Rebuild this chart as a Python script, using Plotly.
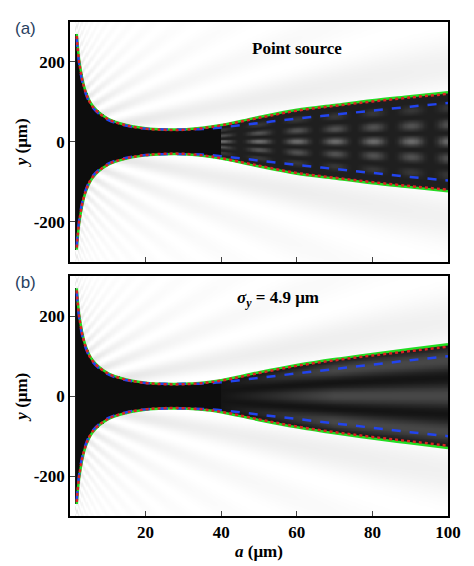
import numpy as np
import plotly.graph_objects as go
from plotly.subplots import make_subplots

# envelope (upper half; lower is mirrored)
a_pts = [1.8, 2.5, 4, 6, 10, 15, 20, 25, 30, 35, 40, 50, 60, 70, 80, 90, 100]
green_a = [270, 200, 130, 90, 58, 42, 34, 31, 31, 35, 42, 62, 80, 92, 104, 114, 124]
red_a = [265, 195, 128, 88, 57, 41, 33, 30, 30, 34, 41, 60, 78, 90, 101, 111, 120]
blue_a = [260, 190, 125, 86, 55, 40, 33, 31, 31, 32, 36, 47, 58, 68, 78, 88, 97]
green_b = [270, 200, 130, 90, 58, 42, 34, 31, 31, 34, 40, 60, 78, 93, 106, 118, 130]
red_b = [265, 195, 128, 88, 57, 41, 33, 30, 30, 33, 39, 58, 76, 90, 102, 113, 124]
blue_b = [260, 190, 125, 86, 55, 40, 33, 31, 31, 32, 35, 46, 57, 68, 79, 90, 100]
x_ticks = [20, 40, 60, 80, 100]
y_ticks = [-200, 0, 200]

a = np.linspace(1.5, 100, 300)
y = np.linspace(-300, 300, 301)
A, Y = np.meshgrid(a, y)


def field(env, checker):
    e = np.interp(A, a_pts, env)
    d = np.abs(Y) - e
    out = 1 - 0.1 * np.exp(-np.clip(d, 0, None) / 120) * np.cos(np.abs(Y) / (6 + A * 0.6)) ** 2
    ins = np.full_like(A, 0.05)
    far = A > 40
    if checker:
        pat = 0.3 * (np.cos(Y / e * 9) * np.cos((A - 40) / 3.2)) ** 2
        pat = 0.12 + pat * (1 - np.abs(Y) / e)
    else:
        pat = 0.08 + 0.2 * np.cos(Y / e * 4.5) ** 2 * np.clip((A - 40) / 30, 0, 1)
    ins = np.where(far, pat, ins)
    return np.where(d > 0, out, ins)


fig = make_subplots(rows=2, cols=1, shared_xaxes=True, vertical_spacing=0.03)
gray = [[0, "black"], [1, "white"]]
for r, (g, rd, b, chk) in enumerate([(green_a, red_a, blue_a, True), (green_b, red_b, blue_b, False)], 1):
    fig.add_trace(go.Heatmap(x=a, y=y, z=field(g, chk), colorscale=gray, zmin=0, zmax=1,
                             showscale=False), row=r, col=1)
    for sgn in (1, -1):
        fig.add_trace(go.Scatter(x=a_pts, y=[sgn * v for v in g], mode="lines", line_shape="spline",
                                 line=dict(color="#22dd22", width=2.5)), row=r, col=1)
        fig.add_trace(go.Scatter(x=a_pts, y=[sgn * v for v in b], mode="lines", line_shape="spline",
                                 line=dict(color="#2244ee", width=2.5, dash="dash")), row=r, col=1)
        fig.add_trace(go.Scatter(x=a_pts, y=[sgn * v for v in rd], mode="lines", line_shape="spline",
                                 line=dict(color="#dd2222", width=2.5, dash="dot")), row=r, col=1)

font = dict(family="Liberation Serif", size=17, color="black")
ax = dict(showline=True, mirror=True, linecolor="black", linewidth=1.5, ticks="inside",
          showgrid=False, zeroline=False, tickfont=font)
for r in (1, 2):
    fig.update_xaxes(range=[0, 100], tickvals=x_ticks,
                     ticktext=["<b>%d</b>" % v for v in x_ticks], row=r, col=1, **ax)
    fig.update_yaxes(range=[-300, 300], tickvals=y_ticks,
                     ticktext=["<b>%d</b>" % v for v in y_ticks], row=r, col=1,
                     title=dict(text="<b><i>y</i> (μm)</b>", font=font, standoff=2), **ax)
fig.update_xaxes(title=dict(text="<b><i>a</i> (μm)</b>", font=font, standoff=4), row=2, col=1)

fig.add_annotation(text="(a)", x=-0.15, y=1.01, xref="paper", yref="paper", showarrow=False,
                   font=dict(family="Liberation Sans", size=17), xanchor="left", yanchor="top")
fig.add_annotation(text="(b)", x=-0.15, y=0.495, xref="paper", yref="paper", showarrow=False,
                   font=dict(family="Liberation Sans", size=17), xanchor="left", yanchor="top")
fig.add_annotation(text="<b>Point source</b>", x=0.6, y=0.97, xref="paper", yref="paper",
                   showarrow=False, font=font, yanchor="top")
fig.add_annotation(text="<b><i>σ<sub>y</sub></i> = 4.9 μm</b>", x=0.55, y=0.465, xref="paper",
                   yref="paper", showarrow=False, font=font, yanchor="top")

fig.update_layout(width=474, height=566, margin=dict(l=62, r=34, t=14, b=58), showlegend=False,
                  plot_bgcolor="white", paper_bgcolor="white")
fig.write_html("out.html")
